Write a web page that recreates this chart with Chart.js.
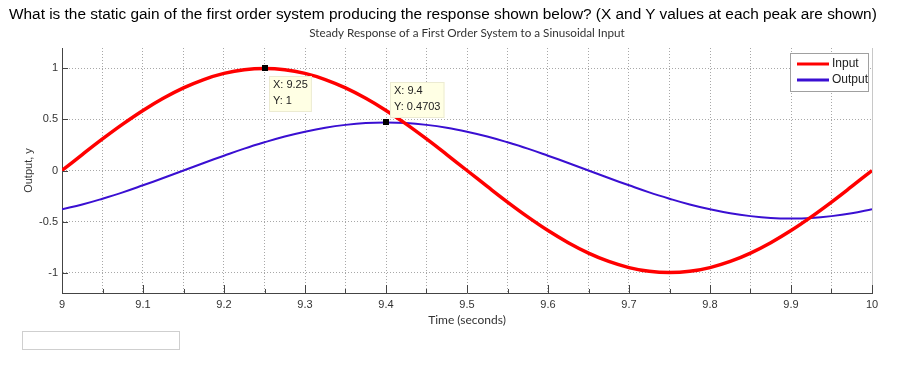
<!DOCTYPE html>
<html><head><meta charset="utf-8">
<script src="https://cdn.jsdelivr.net/npm/chart.js@4.4.1/dist/chart.umd.min.js"></script>
<style>
html,body{margin:0;padding:0;background:#fff;}
#wrap{position:relative;width:923px;height:377px;overflow:hidden;background:#fff;}
#c{position:absolute;left:0;top:0;}
#q{position:absolute;left:9px;top:5px;font:15.4px "Liberation Sans",Arial,sans-serif;color:#000;white-space:nowrap;}
#box{position:absolute;left:22px;top:331px;width:156px;height:17px;border:1px solid #cfcfcf;background:#fff;}
</style></head><body>
<div id="wrap">
<canvas id="c" width="923" height="377"></canvas>
<div id="q">What is the static gain of the first order system producing the response shown below? (X and Y values at each peak are shown)</div>
<div id="box"></div>
</div>
<script>
// ---- data ----
const times = [9.000,9.025,9.050,9.075,9.100,9.125,9.150,9.175,9.200,9.225,9.250,9.275,9.300,9.325,9.350,9.375,9.400,9.425,9.450,9.475,9.500,9.525,9.550,9.575,9.600,9.625,9.650,9.675,9.700,9.725,9.750,9.775,9.800,9.825,9.850,9.875,9.900,9.925,9.950,9.975,10.000];
const inputValues = [0,0.156,0.309,0.454,0.588,0.707,0.809,0.891,0.951,0.988,1.000,0.988,0.951,0.891,0.809,0.707,0.588,0.454,0.309,0.156,0,-0.156,-0.309,-0.454,-0.588,-0.707,-0.809,-0.891,-0.951,-0.988,-1.000,-0.988,-0.951,-0.891,-0.809,-0.707,-0.588,-0.454,-0.309,-0.156,0];
const outputValues = [-0.380,-0.333,-0.276,-0.214,-0.145,-0.074,0,0.074,0.145,0.214,0.276,0.333,0.380,0.419,0.447,0.465,0.470,0.465,0.447,0.419,0.380,0.333,0.276,0.214,0.145,0.074,0,-0.074,-0.145,-0.214,-0.276,-0.333,-0.380,-0.419,-0.447,-0.465,-0.470,-0.465,-0.447,-0.419,-0.380];
const seriesNames = ['Input','Output'];
const xTickValues = [9,9.1,9.2,9.3,9.4,9.5,9.6,9.7,9.8,9.9,10];
const xTickLabels = ['9','9.1','9.2','9.3','9.4','9.5','9.6','9.7','9.8','9.9','10'];
const xGridValues = [9,9.05,9.1,9.15,9.2,9.25,9.3,9.35,9.4,9.45,9.5,9.55,9.6,9.65,9.7,9.75,9.8,9.85,9.9,9.95,10];
const yTickValues = [-1,-0.5,0,0.5,1];
const yTickLabels = ['-1','-0.5','0','0.5','1'];
const tipX = [9.25, 9.4];
const tipY = [1, 0.4703];
const tipXLabels = ['9.25','9.4'];
const tipYLabels = ['1','0.4703'];
const chartTitle = 'Steady Response of a First Order System to a Sinusoidal Input';
const xTitle = 'Time (seconds)';
const yTitle = 'Output, y';

// ---- styling ----
const tipAbove = [false, true];
const tickFont = {family:'"Liberation Sans", Arial, sans-serif', size:11};
const near = (a,b)=>Math.abs(a-b)<1e-9;

const decor = {
  id:'decor',
  afterDatasetsDraw(chart){
    const {ctx, chartArea:a, scales:{x,y}} = chart;
    ctx.save();
    // chart title, centred over the plot box
    ctx.font = '11.7px Lato, sans-serif';
    ctx.fillStyle = '#333'; ctx.textAlign='center'; ctx.textBaseline='middle';
    ctx.fillText(chartTitle, (a.left+a.right)/2, 33);
    ctx.textAlign='left';
    // right border
    ctx.strokeStyle='#c8c8c8'; ctx.lineWidth=1; ctx.setLineDash([]);
    const rx = Math.round(a.right)+0.5;
    ctx.beginPath(); ctx.moveTo(rx,a.top); ctx.lineTo(rx,a.bottom); ctx.stroke();
    // inward tick marks
    ctx.strokeStyle='#444';
    xGridValues.forEach(v=>{
      const px = Math.round(x.getPixelForValue(v))+0.5;
      const len = xTickValues.some(t=>near(t,v)) ? 8 : 4;
      ctx.beginPath(); ctx.moveTo(px,a.bottom); ctx.lineTo(px,a.bottom-len); ctx.stroke();
    });
    yTickValues.forEach(v=>{
      const py = Math.round(y.getPixelForValue(v))+0.5;
      ctx.beginPath(); ctx.moveTo(a.left,py); ctx.lineTo(a.left+6,py); ctx.stroke();
    });
    // data tips
    ctx.font = '11px "Liberation Sans", Arial, sans-serif';
    ctx.textBaseline='middle';
    tipX.forEach((tx,i)=>{
      const mx = x.getPixelForValue(tx), my = y.getPixelForValue(tipY[i]);
      const l1 = 'X: '+tipXLabels[i], l2 = 'Y: '+tipYLabels[i];
      const w = Math.max(ctx.measureText(l1).width, ctx.measureText(l2).width) + 8;
      const h = 36;
      const left = Math.round(mx + 4);
      const top = Math.round(tipAbove[i] ? my - 4 - h : my + 8);
      ctx.fillStyle='#ffffe4';
      ctx.fillRect(left, top, w, h);
      ctx.strokeStyle='#ecebd2'; ctx.lineWidth=1;
      ctx.strokeRect(left+0.5, top+0.5, w-1, h-1);
      ctx.fillStyle='#222';
      ctx.fillText(l1, left+4, top+9);
      ctx.fillText(l2, left+4, top+25);
      ctx.fillStyle='#000';
      ctx.fillRect(Math.round(mx)-3, Math.round(my)-3, 6, 6);
    });
    // legend
    const lw = 78, lh = 38;
    const lx = Math.round(a.right) - 82, ly = Math.round(a.top) + 5;
    ctx.fillStyle='#fff'; ctx.fillRect(lx, ly, lw, lh);
    ctx.strokeStyle='#a0a0a0'; ctx.lineWidth=1;
    ctx.strokeRect(lx+0.5, ly+0.5, lw, lh);
    ctx.font = '12px "Liberation Sans", Arial, sans-serif';
    chart.data.datasets.forEach((ds,i)=>{
      const yy = ly + 11 + i*16;
      ctx.strokeStyle = ds.borderColor; ctx.lineWidth = 3;
      ctx.beginPath(); ctx.moveTo(lx+7, yy); ctx.lineTo(lx+39, yy); ctx.stroke();
      ctx.fillStyle='#222';
      ctx.fillText(ds.label, lx+42, yy);
    });
    ctx.restore();
  }
};

new Chart(document.getElementById('c'), {
  type:'line',
  data:{
    datasets:[
      {label:seriesNames[0], data:times.map((t,i)=>({x:t,y:inputValues[i]})), borderColor:'#ff0000', borderWidth:3.5, pointRadius:0, tension:0.4, fill:false},
      {label:seriesNames[1], data:times.map((t,i)=>({x:t,y:outputValues[i]})), borderColor:'#3a0fd2', borderWidth:2, pointRadius:0, tension:0.4, fill:false}
    ]
  },
  options:{
    responsive:false, animation:false, devicePixelRatio:1,
    layout:{padding:{left:0,right:51,top:48,bottom:0}},
    plugins:{
      legend:{display:false}, tooltip:{enabled:false}, title:{display:false}
    },
    scales:{
      x:{type:'linear', min:9, max:10,
        afterBuildTicks:(s)=>{ s.ticks = xGridValues.map(v=>({value:v})); },
        afterFit:(s)=>{ s.height = 84; },
        ticks:{autoSkip:false, maxRotation:0, padding:5, color:'#333', font:tickFont,
          callback:(v)=>{ const k = xTickValues.findIndex(t=>near(t,v)); return k>=0 ? xTickLabels[k] : ''; }},
        grid:{color:'#a8a8a8', lineWidth:1, drawTicks:false},
        border:{display:true, color:'#444', width:1, dash:[1,2]},
        title:{display:true, text:xTitle, color:'#333', font:{family:'Lato, sans-serif', size:12}, padding:{top:0,bottom:50}}
      },
      y:{type:'linear', min:-1.2, max:1.2,
        afterBuildTicks:(s)=>{ s.ticks = yTickValues.map(v=>({value:v})); },
        afterFit:(s)=>{ s.width = 62; },
        ticks:{padding:4, color:'#333', font:tickFont,
          callback:(v)=>{ const k = yTickValues.findIndex(t=>near(t,v)); return k>=0 ? yTickLabels[k] : ''; }},
        grid:{color:'#a8a8a8', lineWidth:1, drawTicks:false},
        border:{display:true, color:'#444', width:1, dash:[1,2]},
        title:{display:true, text:yTitle, color:'#333', font:{family:'"Liberation Sans", Arial, sans-serif', size:11}, padding:{top:22,bottom:0}}
      }
    }
  },
  plugins:[decor]
});
</script>
</body></html>
